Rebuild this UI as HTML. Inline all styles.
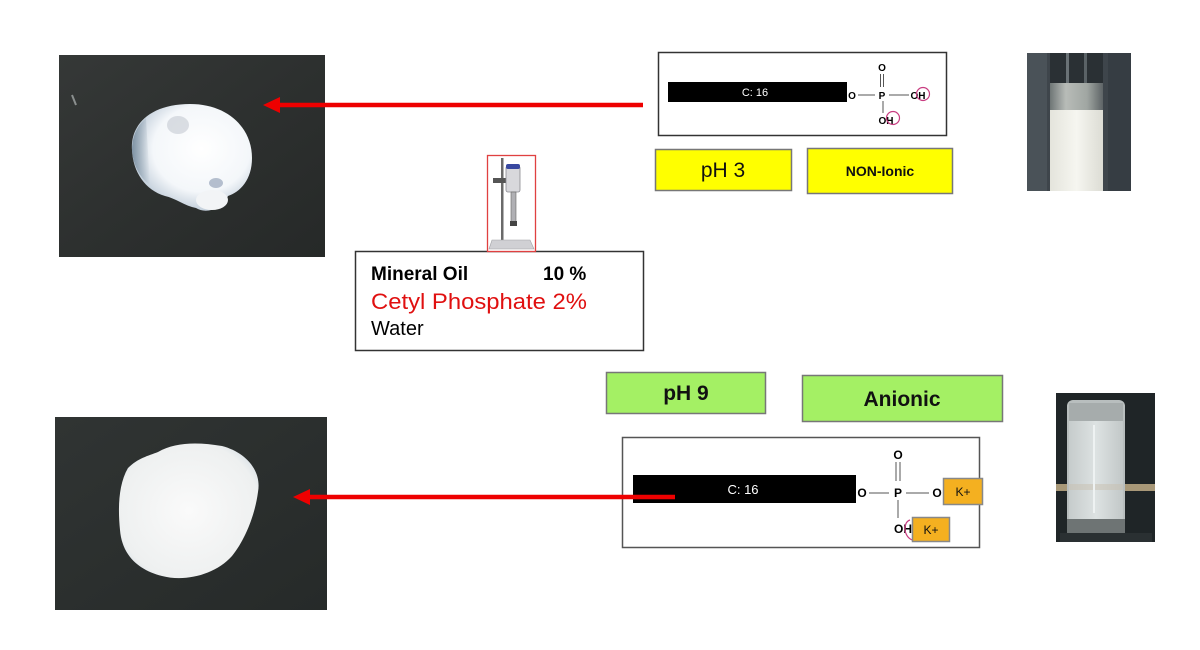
<!DOCTYPE html>
<html>
<head>
<meta charset="utf-8">
<style>
html,body{margin:0;padding:0;background:#fff;}
body{width:1200px;height:650px;position:relative;overflow:hidden;font-family:"Liberation Sans",Arial,sans-serif;}
svg{position:absolute;left:0;top:0;}
</style>
</head>
<body>
<svg width="1200" height="650" viewBox="0 0 1200 650" xmlns="http://www.w3.org/2000/svg" font-family="Liberation Sans, Arial, sans-serif">
  <defs>
    <linearGradient id="bgTL" x1="0" y1="0" x2="1" y2="1">
      <stop offset="0" stop-color="#353837"/>
      <stop offset="0.5" stop-color="#2d302f"/>
      <stop offset="1" stop-color="#262928"/>
    </linearGradient>
    <linearGradient id="bgBL" x1="0" y1="0" x2="1" y2="1">
      <stop offset="0" stop-color="#303433"/>
      <stop offset="1" stop-color="#262a29"/>
    </linearGradient>
    <radialGradient id="blob1" cx="0.58" cy="0.42" r="0.62">
      <stop offset="0" stop-color="#ffffff"/>
      <stop offset="0.65" stop-color="#f4f7fa"/>
      <stop offset="1" stop-color="#b8c6d4"/>
    </radialGradient>
    <radialGradient id="blob2" cx="0.5" cy="0.5" r="0.6">
      <stop offset="0" stop-color="#fafafa"/>
      <stop offset="0.85" stop-color="#eef0f0"/>
      <stop offset="1" stop-color="#d8e0e6"/>
    </radialGradient>
    <linearGradient id="neck" x1="0" y1="0" x2="1" y2="0">
      <stop offset="0" stop-color="#6f7676"/>
      <stop offset="0.3" stop-color="#b8bcb8"/>
      <stop offset="0.7" stop-color="#a0a6a2"/>
      <stop offset="1" stop-color="#5e6466"/>
    </linearGradient>
    <linearGradient id="liq1" x1="0" y1="0" x2="1" y2="0">
      <stop offset="0" stop-color="#e4e4dc"/>
      <stop offset="0.5" stop-color="#f6f6f0"/>
      <stop offset="1" stop-color="#dcdcd4"/>
    </linearGradient>
    <linearGradient id="liq2" x1="0" y1="0" x2="1" y2="0">
      <stop offset="0" stop-color="#c6cccc"/>
      <stop offset="0.5" stop-color="#dde2e2"/>
      <stop offset="1" stop-color="#c2c8c8"/>
    </linearGradient>
    <linearGradient id="leftshade" x1="0" y1="0" x2="1" y2="0">
      <stop offset="0" stop-color="#6e8496" stop-opacity="0.8"/>
      <stop offset="1" stop-color="#6e8496" stop-opacity="0"/>
    </linearGradient>
  </defs>

  <!-- Top-left photo -->
  <rect x="59" y="55" width="266" height="202" fill="url(#bgTL)"/>
  <path d="M72 95 l4 10" stroke="#8a8f8e" stroke-width="2"/>
  <path d="M132 150 C130 125 150 104 190 104 C228 104 252 128 252 158 C252 180 240 192 228 196 C222 210 205 214 196 208 C185 206 175 198 165 196 C145 190 133 172 132 150 Z" fill="url(#blob1)"/>
  <path d="M132 150 C132 135 138 125 146 118 L150 185 C140 178 133 165 132 150 Z" fill="url(#leftshade)"/>
  <ellipse cx="178" cy="125" rx="11" ry="9" fill="#c4cad2" opacity="0.6"/>
  <ellipse cx="216" cy="183" rx="7" ry="5" fill="#8898b0" opacity="0.6"/>
  <ellipse cx="212" cy="200" rx="16" ry="10" fill="#f2f4f6"/>

  <!-- Bottom-left photo -->
  <rect x="55" y="417" width="272" height="193" fill="url(#bgBL)"/>
  <path d="M158 452 C175 442 198 442 222 446 C245 452 262 470 258 492 C255 515 245 540 232 556 C215 575 185 582 162 576 C138 570 122 555 120 530 C118 510 118 485 128 468 C138 458 148 456 158 452 Z" fill="url(#blob2)"/>

  <!-- Red arrows -->
  <line x1="643" y1="105" x2="276" y2="105" stroke="#ee0000" stroke-width="4.5"/>
  <polygon points="263,105 280,97 280,113" fill="#ee0000"/>

  <!-- Formula box -->
  <rect x="355.5" y="251.5" width="288" height="99" fill="#fff" stroke="#333" stroke-width="1.5"/>
  <text x="371" y="280" font-size="19" font-weight="bold" fill="#000">Mineral Oil</text>
  <text x="543" y="280" font-size="19" font-weight="bold" fill="#000">10 %</text>
  <text x="371" y="309" font-size="22" fill="#e01010" textLength="216" lengthAdjust="spacingAndGlyphs">Cetyl Phosphate 2%</text>
  <text x="371" y="335" font-size="20" fill="#000">Water</text>

  <!-- Mixer -->
  <rect x="487.5" y="155.5" width="48" height="96" fill="#fff" stroke="#e04040" stroke-width="1.3"/>
  <rect x="501" y="158" width="2.5" height="82" fill="#6a6a6a"/>
  <rect x="493" y="178" width="16" height="5" fill="#555"/>
  <rect x="506" y="166" width="14" height="26" rx="2" fill="#d8d8dc" stroke="#8a8a90" stroke-width="0.8"/>
  <rect x="506" y="164" width="14" height="5" rx="2" fill="#3848a0"/>
  <rect x="511" y="192" width="5" height="32" fill="#b0b0b4" stroke="#666" stroke-width="0.6"/>
  <rect x="510" y="221" width="7" height="5" fill="#444"/>
  <polygon points="492,240 530,240 534,249 489,249" fill="#d0d0d4" stroke="#a0a0a4" stroke-width="0.6"/>

  <!-- Top molecule box -->
  <rect x="658.5" y="52.5" width="288" height="83" fill="#fff" stroke="#333" stroke-width="1.5"/>
  <rect x="668" y="82" width="179" height="20" fill="#000"/>
  <text x="755" y="96" font-size="11" fill="#fff" text-anchor="middle">C: 16</text>
  <text x="852" y="99" font-size="10" font-weight="bold" text-anchor="middle">O</text>
  <line x1="858" y1="95" x2="875" y2="95" stroke="#555" stroke-width="1"/>
  <text x="882" y="99" font-size="10" font-weight="bold" text-anchor="middle">P</text>
  <text x="882" y="71" font-size="10" font-weight="bold" text-anchor="middle">O</text>
  <line x1="880.5" y1="74" x2="880.5" y2="87" stroke="#555" stroke-width="1"/>
  <line x1="883.5" y1="74" x2="883.5" y2="87" stroke="#555" stroke-width="1"/>
  <line x1="889" y1="95" x2="909" y2="95" stroke="#555" stroke-width="1"/>
  <text x="918" y="99" font-size="10" font-weight="bold" text-anchor="middle">OH</text>
  <line x1="883" y1="101" x2="883" y2="113" stroke="#555" stroke-width="1"/>
  <text x="886" y="124" font-size="10" font-weight="bold" text-anchor="middle">OH</text>
  <circle cx="923" cy="94" r="6.5" fill="none" stroke="#c83c80" stroke-width="1.2"/>
  <circle cx="893" cy="118" r="6.5" fill="none" stroke="#c83c80" stroke-width="1.2"/>

  <!-- pH 3 / NON-Ionic -->
  <rect x="655.5" y="149.5" width="136" height="41" fill="#ffff00" stroke="#777" stroke-width="1.5"/>
  <text x="723" y="177" font-size="21" text-anchor="middle" fill="#111">pH  3</text>
  <rect x="807.5" y="148.5" width="145" height="45" fill="#ffff00" stroke="#777" stroke-width="1.5"/>
  <text x="880" y="176" font-size="14" font-weight="bold" text-anchor="middle" fill="#111">NON-Ionic</text>

  <!-- pH 9 / Anionic -->
  <rect x="606.5" y="372.5" width="159" height="41" fill="#a4f064" stroke="#777" stroke-width="1.5"/>
  <text x="686" y="400" font-size="21" font-weight="bold" text-anchor="middle" fill="#111">pH  9</text>
  <rect x="802.5" y="375.5" width="200" height="46" fill="#a4f064" stroke="#777" stroke-width="1.5"/>
  <text x="902" y="406" font-size="21" font-weight="bold" text-anchor="middle" fill="#111">Anionic</text>

  <!-- Bottom molecule box -->
  <rect x="622.5" y="437.5" width="357" height="110" fill="#fff" stroke="#555" stroke-width="1.5"/>
  <rect x="633" y="475" width="223" height="28" fill="#000"/>
  <text x="743" y="494" font-size="13" fill="#fff" text-anchor="middle">C: 16</text>
  <text x="862" y="497" font-size="12" font-weight="bold" text-anchor="middle">O</text>
  <line x1="869" y1="493" x2="889" y2="493" stroke="#555" stroke-width="1"/>
  <text x="898" y="497" font-size="12" font-weight="bold" text-anchor="middle">P</text>
  <text x="898" y="459" font-size="12" font-weight="bold" text-anchor="middle">O</text>
  <line x1="896" y1="462" x2="896" y2="481" stroke="#555" stroke-width="1"/>
  <line x1="900" y1="462" x2="900" y2="481" stroke="#555" stroke-width="1"/>
  <line x1="906" y1="493" x2="929" y2="493" stroke="#555" stroke-width="1"/>
  <text x="937" y="497" font-size="12" font-weight="bold" text-anchor="middle">O</text>
  <line x1="898" y1="500" x2="898" y2="518" stroke="#555" stroke-width="1"/>
  <text x="903" y="533" font-size="12" font-weight="bold" text-anchor="middle">OH</text>
  <path d="M910 520 C903 522 903 536 912 540" fill="none" stroke="#c83c80" stroke-width="1.2"/>
  <rect x="943.5" y="478.5" width="39" height="26" fill="#f4b020" stroke="#888" stroke-width="1.5"/>
  <text x="963" y="496" font-size="12" text-anchor="middle" fill="#111">K+</text>
  <rect x="912.5" y="517.5" width="37" height="24" fill="#f4b020" stroke="#888" stroke-width="1.5"/>
  <text x="931" y="534" font-size="12" text-anchor="middle" fill="#111">K+</text>

  <line x1="675" y1="497" x2="306" y2="497" stroke="#ee0000" stroke-width="4.5"/>
  <polygon points="293,497 310,489 310,505" fill="#ee0000"/>

  <!-- Top-right vial photo -->
  <rect x="1027" y="53" width="104" height="138" fill="#3e454b"/>
  <rect x="1027" y="53" width="20" height="138" fill="#4a5258"/>
  <rect x="1108" y="53" width="23" height="138" fill="#363d43"/>
  <rect x="1050" y="53" width="53" height="30" fill="#2a3034"/>
  <rect x="1066" y="53" width="3" height="30" fill="#6a7276"/>
  <rect x="1084" y="53" width="3" height="30" fill="#5a6266"/>
  <rect x="1050" y="83" width="53" height="30" fill="url(#neck)"/>
  <rect x="1050" y="110" width="53" height="81" fill="url(#liq1)"/>

  <!-- Bottom-right vial photo -->
  <rect x="1056" y="393" width="99" height="149" fill="#1f2527"/>
  <rect x="1056" y="484" width="99" height="7" fill="#a89878"/>
  <rect x="1067" y="400" width="58" height="127" rx="6" fill="#b8bebe"/>
  <rect x="1069" y="403" width="54" height="18" fill="#a6acac"/>
  <rect x="1069" y="421" width="54" height="98" fill="url(#liq2)"/>
  <rect x="1069" y="484" width="54" height="6" fill="#c8c0b0" opacity="0.5"/>
  <rect x="1093" y="425" width="2" height="88" fill="#eef2f2"/>
  <rect x="1067" y="519" width="58" height="14" fill="#6e7474"/>
  <rect x="1060" y="533" width="92" height="9" fill="#2a3032"/>
</svg>
</body>
</html>
